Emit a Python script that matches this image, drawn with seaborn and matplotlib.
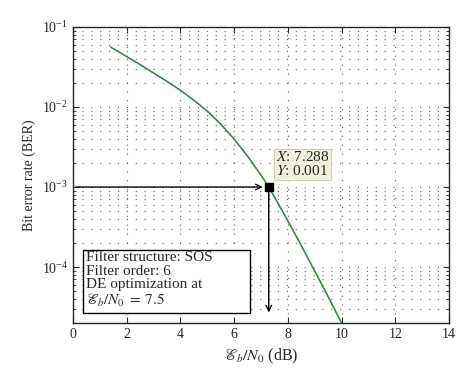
import matplotlib
matplotlib.use("Agg")
import matplotlib.pyplot as plt
from matplotlib.patches import Rectangle
import seaborn as sns
import pandas as pd

# BER curve
ebn0_db = [1.4, 2.0, 2.5, 3.0, 3.5, 4.0, 4.5, 5.0, 5.5, 6.0, 6.5, 7.0, 7.288,
           7.8, 8.5, 9.0, 9.5, 10.0]
ber = [0.0562, 0.0427, 0.0339, 0.0266, 0.0209, 0.0162, 0.01216, 0.00891, 0.0061,
       0.00398, 0.00243, 0.00141, 0.001, 5.01e-4, 1.86e-4, 8.91e-5, 4.27e-5, 2.0e-5]

tip_x = 7.288
tip_y = 0.001
x_ticks = [0, 2, 4, 6, 8, 10, 12, 14]
box_lines = ["Filter structure: SOS", "Filter order: 6", "DE optimization at",
             r"$\mathscr{E}_b/N_0\;=\;7.5$"]

sns.set_style("ticks")
plt.rcParams['font.family'] = ['Liberation Serif', 'DejaVu Serif']
plt.rcParams['mathtext.fontset'] = 'stix'

df = pd.DataFrame({"ebn0": ebn0_db, "ber": ber})

fig = plt.figure(figsize=(4.74, 3.87), dpi=100)
ax = fig.add_axes([73 / 474, 1 - 323 / 387, 376 / 474, 296 / 387])

sns.lineplot(data=df, x="ebn0", y="ber", color="#2e8b3a", linewidth=1.15, ax=ax, zorder=3)
ax.set_yscale("log")
ax.set_xlim(0, 14)
ax.set_ylim(2e-5, 1e-1)
ax.set_xticks(x_ticks)

# MATLAB-like sparse dotted grid
dots = (0, (1, 7))
ax.grid(True, which="major", linestyle=dots, color="#666666", linewidth=0.8)
ax.grid(True, which="minor", axis="y", linestyle=dots, color="#666666", linewidth=0.8)
ax.tick_params(which="both", direction="in", top=True, right=True, labelsize=10)
ax.tick_params(which="major", length=4)
ax.tick_params(which="minor", length=2.5)
for s in ax.spines.values():
    s.set_linewidth(1.0)

ax.set_xlabel(r"$\mathscr{E}_b/N_0$ (dB)", fontsize=11.5)
ax.set_ylabel("Bit error rate (BER)", fontsize=10)

# arrows to the data tip
ax.annotate("", xy=(tip_x - 0.12, tip_y), xytext=(0, tip_y),
            arrowprops=dict(arrowstyle="->", color="black", lw=1.0), zorder=4)
ax.annotate("", xy=(tip_x, 2.5e-5), xytext=(tip_x, tip_y),
            arrowprops=dict(arrowstyle="->", color="black", lw=1.0), zorder=4)
ax.plot([tip_x], [tip_y], marker="s", color="black", markersize=5.5, zorder=5)

ax.text(7.55, 1.3e-3, "$X$: 7.288\n$Y$: 0.001", fontsize=11, va="bottom", ha="left",
        linespacing=0.95, zorder=6,
        bbox=dict(boxstyle="square,pad=0.12", facecolor="#f2f0e0", edgecolor="#d4d0b8", lw=0.8))

# info box
ax.add_patch(Rectangle((0.027, 0.034), 0.444, 0.213, transform=ax.transAxes,
                       facecolor="white", edgecolor="black", lw=1.0, zorder=6))
ax.text(0.034, 0.242, "\n".join(box_lines), transform=ax.transAxes, fontsize=11,
        va="top", ha="left", linespacing=1.05, zorder=7)

fig.savefig("out.png", dpi=100)
